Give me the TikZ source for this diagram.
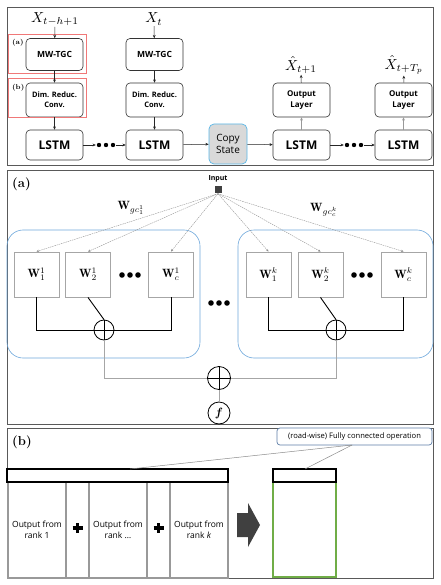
\documentclass[tikz,border=0pt]{standalone}
\usepackage{amsmath}
\usepackage{fontspec}
\newfontfamily\osans{Open Sans}
\usetikzlibrary{arrows.meta}
\definecolor{pframe}{HTML}{595959}
\definecolor{bluefr}{HTML}{6FA8DC}
\definecolor{copyfr}{HTML}{5BB8E8}
\definecolor{copyfill}{HTML}{D9D9D9}
\definecolor{redfr}{HTML}{F07878}
\definecolor{wgray}{HTML}{A6A6A6}
\definecolor{greenfr}{HTML}{70AD47}
\definecolor{fcfr}{HTML}{5F7FA8}
\definecolor{arrowdark}{HTML}{404040}
\newcommand{\mybigmath}[1]{\scalebox{1.45}{$#1$}}
\newcommand{\mywmath}[1]{\scalebox{1.2}{$#1$}}
\tikzset{
  panel/.style={draw=pframe, line width=0.9pt},
  blk/.style={draw=black!80, line width=0.6pt, rounded corners=4pt, fill=white, align=center, inner sep=1pt},
  lstmbox/.style={blk, minimum width=57pt, minimum height=30pt, font=\osans\bfseries\fontsize{12}{12}\selectfont},
  mwbox/.style={blk, minimum width=57pt, minimum height=32pt, font=\osans\bfseries\fontsize{8.5}{10}\selectfont},
  dimbox/.style={blk, minimum width=57pt, minimum height=34pt, font=\osans\bfseries\fontsize{7.5}{10}\selectfont},
  outbox/.style={blk, minimum width=57pt, minimum height=34pt, font=\osans\bfseries\fontsize{8}{10.5}\selectfont},
  copybox/.style={draw=copyfr, fill=copyfill, line width=0.7pt, rounded corners=5pt, align=center, minimum width=38pt, minimum height=40pt, inner sep=1pt, font=\osans\fontsize{10}{12}\selectfont},
  arr/.style={-{Stealth[length=3.2pt,width=2.8pt]}, line width=0.5pt, draw=black!85},
  garr/.style={-{Stealth[length=3.2pt,width=2.8pt]}, line width=0.5pt, draw=black!40},
  redbox/.style={draw=redfr, line width=0.8pt},
  smalllab/.style={font=\bfseries\fontsize{7}{7}\selectfont, inner sep=0pt},
  mathlab/.style={inner sep=1pt},
  wbox/.style={draw=wgray, line width=0.9pt, fill=white, minimum width=45pt, minimum height=45pt, inner sep=0pt},
  bluebox/.style={draw=bluefr, rounded corners=16pt, line width=0.6pt},
  sumc/.style={circle, draw=black, line width=0.8pt, minimum size=20pt, inner sep=0pt,
    path picture={\draw[line width=0.8pt] (path picture bounding box.north) -- (path picture bounding box.south) (path picture bounding box.west) -- (path picture bounding box.east);}},
  inarr/.style={-{Stealth[length=2.5pt,width=2.2pt]}, line width=0.35pt, draw=black!45, dash pattern=on 1.5pt off 0.8pt},
  blkline/.style={line width=0.9pt, draw=black},
  gline/.style={line width=0.7pt, draw=black!35},
  rankbox/.style={draw=black!40, line width=1.3pt, align=center, inner sep=0pt, font=\osans\fontsize{8.5}{10.5}\selectfont},
  barbox/.style={draw=black, line width=1.1pt},
  fcbox/.style={draw=fcfr, line width=0.7pt, rounded corners=3pt, fill=white, minimum width=155pt, minimum height=17pt, inner sep=1pt, font=\osans\fontsize{7.6}{9}\selectfont},
  panlab/.style={font=\bfseries\fontsize{13}{13}\selectfont, inner sep=0pt}
}
\begin{document}
\begin{tikzpicture}[x=1pt,y=-1pt]
\useasboundingbox (0,0) rectangle (440,585);
\fill[white] (0,0) rectangle (440,585);

%% ===== Panel 1 =====
\draw[panel] (7,7) rectangle (433,165);

\node[mathlab] (xin1) at (55,19) {\mybigmath{X_{t-h+1}}};
\node[mathlab] (xin2) at (154,19) {\mybigmath{X_t}};
\node[mathlab] (xo1) at (301,65) {\mybigmath{\hat{X}_{t+1}}};
\node[mathlab] (xo2) at (404,65) {\mybigmath{\hat{X}_{t+T_p}}};

\node[mwbox] (mw1) at (54.5,54.5) {MW-TGC};
\node[mwbox] (mw2) at (154.5,54.5) {MW-TGC};
\node[dimbox] (dr1) at (54.5,100) {Dim. Reduc.\\Conv.};
\node[dimbox] (dr2) at (154.5,100) {Dim. Reduc.\\Conv.};
\node[lstmbox] (l1) at (54.5,145) {LSTM};
\node[lstmbox] (l2) at (154.5,145) {LSTM};
\node[copybox] (cs) at (228,144) {Copy\\State};
\node[lstmbox] (l3) at (301.5,145) {LSTM};
\node[lstmbox] (l4) at (403.5,145) {LSTM};
\node[outbox] (ol1) at (301.5,100) {Output\\Layer};
\node[outbox] (ol2) at (403.5,100) {Output\\Layer};

\draw[redbox] (8,34) rectangle (86,73);
\draw[redbox] (8,78) rectangle (86,117);
\node[smalllab, anchor=west] (la) at (12,43) {(a)};
\node[smalllab, anchor=west] (lb) at (12,88) {(b)};

\node[minimum width=20pt, minimum height=6pt, inner sep=0pt] (d1) at (106,145) {};
\node[minimum width=20pt, minimum height=6pt, inner sep=0pt] (d2) at (354,145) {};
\foreach \x in {99,106,113} \fill (\x,145) circle[radius=2.2pt];
\foreach \x in {347,354,361} \fill (\x,145) circle[radius=2.2pt];

\draw[arr] (xin1) -- (mw1);
\draw[arr] (xin2) -- (mw2);
\draw[arr] (mw1) -- (dr1);
\draw[arr] (mw2) -- (dr2);
\draw[arr] (dr1) -- (l1);
\draw[arr] (dr2) -- (l2);
\draw[arr] (l1) -- (d1);
\draw[arr] (d1) -- (l2);
\draw[arr] (l2) -- (cs);
\draw[arr] (cs) -- (l3);
\draw[arr] (l3) -- (d2);
\draw[arr] (d2) -- (l4);
\draw[garr] (l3) -- (ol1);
\draw[garr] (l4) -- (ol2);
\draw[arr] (ol1) -- (xo1);
\draw[arr] (ol2) -- (xo2);

%% ===== Panel 2 =====
\draw[panel] (7,170) rectangle (433,424);
\node[panlab, anchor=west] (pa) at (12,184) {(a)};
\node[font=\osans\bfseries\fontsize{7}{7}\selectfont, inner sep=0pt] (inlab) at (218,179) {Input};
\node[fill=arrowdark, minimum size=7pt, inner sep=0pt] (inp) at (218,190) {};

\draw[bluebox] (7,230) rectangle (200,358);
\draw[bluebox] (238,230) rectangle (433,358);

\node[inner sep=0pt] (wg1) at (131,208) {\mywmath{\mathbf{W}_{gc_1^1}}};
\node[inner sep=0pt] (wgk) at (324,210) {\mywmath{\mathbf{W}_{gc_c^k}}};

\node[wbox] (w11) at (36.5,274.5) {\mywmath{\mathbf{W}_1^1}};
\node[wbox] (w21) at (88,274.5) {\mywmath{\mathbf{W}_2^1}};
\node[wbox] (wc1) at (171,274.5) {\mywmath{\mathbf{W}_c^1}};
\node[wbox] (w1k) at (268.5,274.5) {\mywmath{\mathbf{W}_1^k}};
\node[wbox] (w2k) at (320.5,274.5) {\mywmath{\mathbf{W}_2^k}};
\node[wbox] (wck) at (403.5,274.5) {\mywmath{\mathbf{W}_c^k}};

\foreach \x in {122,130,138} \fill (\x,275) circle[radius=2.8pt];
\foreach \x in {354,362,370} \fill (\x,275) circle[radius=2.8pt];
\foreach \x in {211,219,227} \fill (\x,303) circle[radius=2.8pt];

\foreach \w in {w11,w21,wc1,w1k,w2k,wck} \draw[inarr] (inp.south) -- (\w.north);

\node[sumc] (s1) at (104,330) {};
\node[sumc] (sk) at (336,330) {};
\draw[blkline] (w11.south) |- (s1.west);
\draw[blkline] (wc1.south) |- (s1.east);
\draw[blkline] (w21.south) -- (s1.north);
\draw[blkline] (w1k.south) |- (sk.west);
\draw[blkline] (wck.south) |- (sk.east);
\draw[blkline] (w2k.south) -- (sk.north);

\node[sumc, minimum size=23pt] (bs) at (219,378) {};
\node[circle, draw=black, line width=0.8pt, minimum size=22pt, inner sep=0pt] (fc) at (219,413) {\mywmath{\boldsymbol{f}}};
\draw[gline] (s1.south) |- (bs.west);
\draw[gline] (sk.south) |- (bs.east);
\draw[gline] (bs.south) -- (fc.north);

%% ===== Panel 3 =====
\draw[panel] (7,428) rectangle (433,578);
\node[panlab, anchor=west] (pb) at (12,442) {(b)};

\node[rankbox, minimum width=58pt, minimum height=96pt] (r1) at (37,530) {Output from\\rank 1};
\node[rankbox, minimum width=22pt, minimum height=96pt] (g1) at (77.5,530) {};
\node[rankbox, minimum width=58pt, minimum height=96pt] (r2) at (118,530) {Output from\\rank \dots};
\node[rankbox, minimum width=22pt, minimum height=96pt] (g2) at (158.5,530) {};
\node[rankbox, minimum width=58pt, minimum height=96pt] (r3) at (199,530) {Output from\\rank \textit{k}};
\draw[barbox] (7,469) rectangle (228,482);

\foreach \cx in {77.5,158.5} {
  \draw[line width=3.2pt] (\cx-5,528) -- (\cx+5,528);
  \draw[line width=3.2pt] (\cx,523) -- (\cx,533);
}

\fill[arrowdark] (237,513) -- (248,513) -- (248,503) -- (260,525) -- (248,547) -- (248,537) -- (237,537) -- cycle;

\draw[draw=greenfr, line width=1.6pt] (273,482) rectangle (336,577);
\draw[barbox] (273,469) rectangle (336,482);

\node[fcbox] (fcl) at (354.5,436.5) {(road-wise) Fully connected operation};
\coordinate (fcs) at (352,445);
\coordinate (t1) at (130,469);
\coordinate (t2) at (305,469);
\draw[line width=0.5pt, draw=black!45] (fcs) -- (t1);
\draw[line width=0.5pt, draw=black!45] (fcs) -- (t2);
\end{tikzpicture}
\end{document}
